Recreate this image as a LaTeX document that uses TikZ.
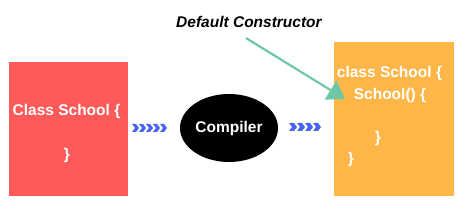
\documentclass[tikz,border=0pt]{standalone}
\usepackage{fontspec}
\setmainfont{Liberation Sans}
\usetikzlibrary{arrows.meta,shapes.geometric}
\definecolor{boxred}{RGB}{255,90,90}
\definecolor{boxorange}{RGB}{255,182,72}
\definecolor{chevblue}{RGB}{75,100,240}
\definecolor{arrowgreen}{RGB}{110,200,165}
\tikzset{
  codetxt/.style={text=white, font=\bfseries\fontsize{15.5}{18}\selectfont, inner sep=0pt, anchor=center},
  chev/.style={fill=chevblue, draw=none},
}
\begin{document}
\begin{tikzpicture}[x=1pt,y=-1pt]
\useasboundingbox (0,0) rectangle (474,213);
\fill[white] (0,0) rectangle (474,213);
% boxes
\node[fill=boxred, minimum width=119pt, minimum height=134pt, inner sep=0pt] (src) at (68.5,129) {};
\node[fill=boxorange, minimum width=120pt, minimum height=154pt, inner sep=0pt] (out) at (394,119) {};
\node[fill=black, ellipse, minimum width=98pt, minimum height=68pt, inner sep=0pt] (comp) at (229,128) {};
\node[codetxt] at (comp) {Compiler};
% texts in red box
\node[codetxt] (s1) at (66.5,111) {Class School \{};
\node[codetxt] (s2) at (67,155) {\}};
% texts in orange box
\node[codetxt] (o1) at (389.5,73) {class School \{};
\node[codetxt] (o2) at (390,95) {School() \{};
\node[codetxt] (o3) at (378,138) {\}};
\node[codetxt] (o4) at (351,159) {\}};
% label
\node[font=\bfseries\itshape\fontsize{15.5}{18}\selectfont, inner sep=0pt] (dc) at (249,22) {Default Constructor};
\coordinate (from) at (246,38);
\coordinate (to) at (345,99);
\draw[arrowgreen, line width=2.2pt, -{Triangle[length=17pt,width=22pt]}] (from) -- (to);
% chevrons
\foreach \i in {0,...,4} {
  \fill[chev] ({132+7*\i},124) -- ({136+7*\i},124) -- ({139+7*\i},128) -- ({136+7*\i},132) -- ({132+7*\i},132) -- ({135+7*\i},128) -- cycle;
}
\foreach \i in {0,...,3} {
  \fill[chev] ({289+8*\i},123) -- ({294+8*\i},123) -- ({297+8*\i},127) -- ({294+8*\i},131) -- ({289+8*\i},131) -- ({292+8*\i},127) -- cycle;
}
\end{tikzpicture}
\end{document}
